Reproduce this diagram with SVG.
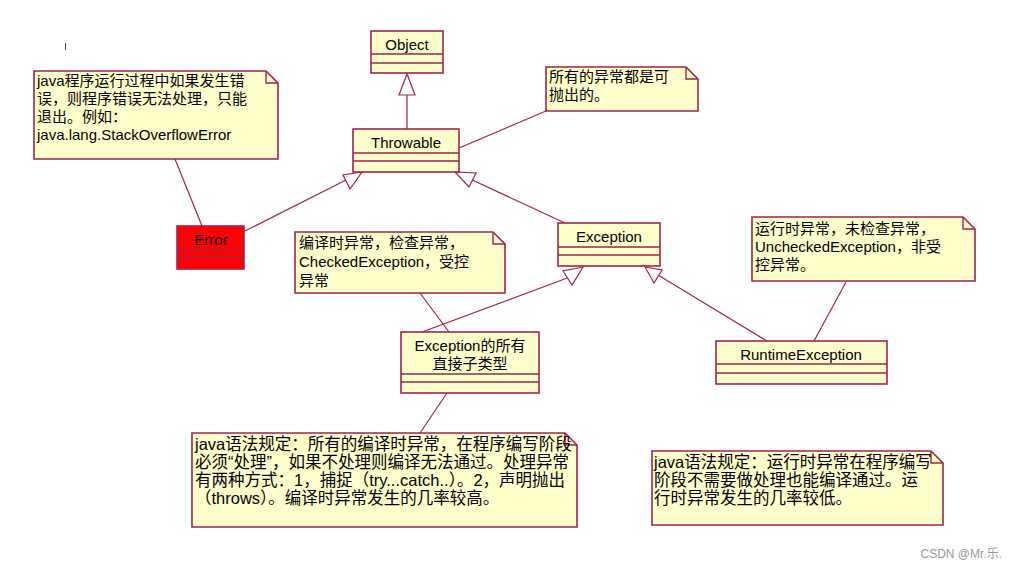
<svg xmlns="http://www.w3.org/2000/svg" width="1016" height="570" viewBox="0 0 1016 570">
<style>
.c{fill:#ffffcc;stroke:#a3234f;stroke-width:1.6}
.e{fill:#ff0000;stroke:#a3234f;stroke-width:1.6}
.l{stroke:#a3234f;stroke-width:1.4;fill:none}
.t{font-family:"Liberation Sans","Noto Sans CJK SC",sans-serif;font-size:15px;fill:#000}
.b{font-size:16.5px}
.m{text-anchor:middle}
.ln{stroke:#a3234f;stroke-width:1.2;fill:none}
.ah{fill:#fff;stroke:#a3234f;stroke-width:1.2}
</style>
<rect width="1016" height="570" fill="#fff"/>
<line x1="65.5" y1="43" x2="65.5" y2="50" stroke="#444" stroke-width="1"/>
<g id="connectors">
<line class="ln" x1="407" y1="129" x2="407" y2="95"/>
<polygon class="ah" points="407,74 399,95 415,95"/>
<line class="ln" x1="245" y1="231" x2="350" y2="178"/>
<polygon class="ah" points="362,172 343,175 350,189"/>
<line class="ln" x1="565" y1="223" x2="468" y2="178"/>
<polygon class="ah" points="455,172 469,187 476,173"/>
<line class="ln" x1="422" y1="332" x2="570" y2="277"/>
<polygon class="ah" points="583,267 563,271 572,285"/>
<line class="ln" x1="767" y1="341" x2="658" y2="275"/>
<polygon class="ah" points="645,267 654,283 662,270"/>
<line class="ln" x1="175" y1="159" x2="202" y2="226"/>
<line class="ln" x1="459" y1="148" x2="546" y2="111"/>
<line class="ln" x1="420" y1="293" x2="449" y2="332"/>
<line class="ln" x1="846" y1="282" x2="814" y2="341"/>
<line class="ln" x1="447" y1="393" x2="420" y2="433"/>
</g>
<g id="object">
<rect class="c" x="371" y="31" width="72" height="42"/>
<path class="l" d="M371 54H443M371 63H443"/>
<text class="t m" x="407" y="50">Object</text>
</g>
<g id="throwable">
<rect class="c" x="353" y="129" width="106" height="43"/>
<path class="l" d="M353 153H459M353 161H459"/>
<text class="t m" x="406" y="148">Throwable</text>
</g>
<g id="error">
<rect class="e" x="177" y="226" width="67" height="43"/>
<path class="l" d="M177 250H244M177 258H244"/>
<text class="t m" x="211" y="245">Error</text>
</g>
<g id="exception">
<rect class="c" x="558" y="223" width="102" height="43"/>
<path class="l" d="M558 247H660M558 255H660"/>
<text class="t m" x="609" y="242">Exception</text>
</g>
<g id="runtimeexception">
<rect class="c" x="716" y="341" width="171" height="43"/>
<path class="l" d="M716 364H887M716 373H887"/>
<text class="t m" x="801" y="360">RuntimeException</text>
</g>
<g id="subtypes">
<rect class="c" x="401" y="332" width="138" height="61"/>
<path class="l" d="M401 374H539M401 382H539"/>
<text class="t m" x="470" y="351">Exception的所有</text>
<text class="t m" x="470" y="369">直接子类型</text>
</g>
<g id="note-error">
<path class="c" d="M34 71H266L278 83V159H34Z"/>
<path class="l" d="M266 71V83H278"/>
<text class="t" x="37" y="86">java程序运行过程中如果发生错</text>
<text class="t" x="37" y="104">误，则程序错误无法处理，只能</text>
<text class="t" x="37" y="122">退出。例如：</text>
<text class="t" x="37" y="140">java.lang.StackOverflowError</text>
</g>
<g id="note-throwable">
<path class="c" d="M546 67H686L698 79V111H546Z"/>
<path class="l" d="M686 67V79H698"/>
<text class="t" x="549" y="82">所有的异常都是可</text>
<text class="t" x="549" y="100">抛出的。</text>
</g>
<g id="note-checked">
<path class="c" d="M295 232H493L505 244V293H295Z"/>
<path class="l" d="M493 232V244H505"/>
<text class="t" x="299" y="248">编译时异常，检查异常，</text>
<text class="t" x="299" y="267">CheckedException，受控</text>
<text class="t" x="299" y="286">异常</text>
</g>
<g id="note-runtime">
<path class="c" d="M752 217H963L975 229V281H752Z"/>
<path class="l" d="M963 217V229H975"/>
<text class="t" x="755" y="234">运行时异常，未检查异常，</text>
<text class="t" x="755" y="252">UncheckedException，非受</text>
<text class="t" x="755" y="270">控异常。</text>
</g>
<g id="note-compile">
<path class="c" d="M192 433H565L577 445V527H192Z"/>
<path class="l" d="M565 433V445H577"/>
<text class="t b" x="195" y="450">java语法规定：所有的编译时异常，在程序编写阶段</text>
<text class="t b" x="195" y="468">必须“处理”，如果不处理则编译无法通过。处理异常</text>
<text class="t b" x="195" y="486">有两种方式：1，捕捉（try...catch..）。2，声明抛出</text>
<text class="t b" x="195" y="504">（throws）。编译时异常发生的几率较高。</text>
</g>
<g id="note-runtime-rule">
<path class="c" d="M652 451H931L943 463V525H652Z"/>
<path class="l" d="M931 451V463H943"/>
<text class="t b" x="654" y="468">java语法规定：运行时异常在程序编写</text>
<text class="t b" x="654" y="486">阶段不需要做处理也能编译通过。运</text>
<text class="t b" x="654" y="504">行时异常发生的几率较低。</text>
</g>
<text x="1002" y="558" text-anchor="end" font-family="Liberation Sans,Noto Sans CJK SC,sans-serif" font-size="12" fill="#999">CSDN @Mr.乐.</text>
</svg>
